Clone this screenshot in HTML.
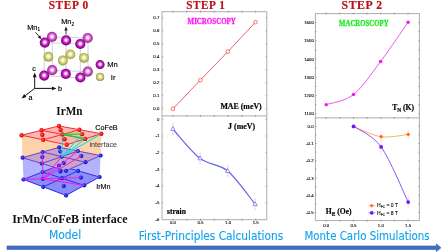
<!DOCTYPE html>
<html lang="en"><head><meta charset="utf-8"><title>Multiscale workflow</title>
<style>
html,body{margin:0;padding:0;background:#fff;}
body{width:448px;height:252px;overflow:hidden;}
svg{display:block;}
text{font-family:"Liberation Sans","DejaVu Sans",sans-serif;}
.serif{font-family:"Liberation Serif","DejaVu Serif",serif;font-weight:bold;}
.lab{stroke:#000;stroke-width:0.18px;fill:#000;}
.hand{font-family:"DejaVu Sans","Liberation Sans",sans-serif;fill:#10a2ee;stroke:#10a2ee;stroke-width:0.12px;}
.tick{font-family:"Liberation Sans","DejaVu Sans",sans-serif;font-size:4.3px;fill:#000;stroke:#000;stroke-width:0.1px;}
</style></head><body>
<svg width="448" height="252" viewBox="0 0 448 252">
<defs>
<radialGradient id="gMn" cx="0.5" cy="0.47" r="0.54"><stop offset="0" stop-color="#ffffff"/><stop offset="0.2" stop-color="#fde0fc"/><stop offset="0.45" stop-color="#d440d0"/><stop offset="0.68" stop-color="#aa0ca6"/><stop offset="0.88" stop-color="#820480"/><stop offset="1" stop-color="#4c0050"/></radialGradient>
<radialGradient id="gMn2" cx="0.5" cy="0.47" r="0.54"><stop offset="0" stop-color="#ffffff"/><stop offset="0.2" stop-color="#fde8fc"/><stop offset="0.45" stop-color="#e07cdc"/><stop offset="0.68" stop-color="#bc44b8"/><stop offset="0.88" stop-color="#9c2c98"/><stop offset="1" stop-color="#701872"/></radialGradient>
<radialGradient id="gIr" cx="0.5" cy="0.47" r="0.54"><stop offset="0" stop-color="#ffffff"/><stop offset="0.2" stop-color="#fcfce0"/><stop offset="0.45" stop-color="#dedc94"/><stop offset="0.68" stop-color="#c2c26a"/><stop offset="0.88" stop-color="#a4a44c"/><stop offset="1" stop-color="#6c6c2c"/></radialGradient>
<radialGradient id="gR" cx="0.4" cy="0.4" r="0.65"><stop offset="0" stop-color="#ff5a4a"/><stop offset="0.6" stop-color="#f01010"/><stop offset="1" stop-color="#b80000"/></radialGradient>
<radialGradient id="gB" cx="0.4" cy="0.4" r="0.65"><stop offset="0" stop-color="#5a5aff"/><stop offset="0.6" stop-color="#1818e0"/><stop offset="1" stop-color="#0a0a9a"/></radialGradient>
</defs>
<rect width="448" height="252" fill="#fff"/>

<text class="serif" x="48.7" y="9" font-size="13" letter-spacing="0.7" fill="#c40c10" stroke="#c40c10" stroke-width="0.2" textLength="40" lengthAdjust="spacingAndGlyphs">STEP 0</text>
<text class="serif" x="186.2" y="9" font-size="13" letter-spacing="0.7" fill="#b81016" stroke="#b81016" stroke-width="0.2" textLength="39.3" lengthAdjust="spacingAndGlyphs">STEP 1</text>
<text class="serif" x="341.5" y="8.8" font-size="13" letter-spacing="0.7" fill="#b81016" stroke="#b81016" stroke-width="0.2" textLength="41.2" lengthAdjust="spacingAndGlyphs">STEP 2</text>
<g stroke="#b4b4b4" stroke-width="0.6" fill="none">
<path d="M44.5 42.6 L80.3 44 L80.3 78 L44.2 75.5 Z"/>
<path d="M52 37 L88 38 L88 71.5 L52.5 70.5 Z"/>
<path d="M44.5 42.6 L52 37 M80.3 44 L88 38 M80.3 78 L88 71.5 M44.2 75.5 L52.5 70.5 M66 40.4 L66 74"/>
</g>
<circle cx="52.0" cy="36.9" r="5.1" fill="url(#gMn2)"/>
<circle cx="87.7" cy="38.0" r="5.1" fill="url(#gMn2)"/>
<circle cx="52.2" cy="70.2" r="5.1" fill="url(#gMn2)"/>
<circle cx="87.8" cy="71.6" r="5.1" fill="url(#gMn2)"/>
<circle cx="70.4" cy="54.4" r="4.9" fill="url(#gIr)"/>
<circle cx="48.4" cy="56.7" r="4.9" fill="url(#gIr)"/>
<circle cx="84.0" cy="57.8" r="4.9" fill="url(#gIr)"/>
<circle cx="62.8" cy="60.5" r="4.9" fill="url(#gIr)"/>
<circle cx="44.8" cy="42.6" r="5.1" fill="url(#gMn)"/>
<circle cx="66.1" cy="40.4" r="5.1" fill="url(#gMn)"/>
<circle cx="80.3" cy="44.0" r="5.1" fill="url(#gMn)"/>
<circle cx="44.2" cy="75.6" r="5.1" fill="url(#gMn)"/>
<circle cx="65.8" cy="73.9" r="5.1" fill="url(#gMn)"/>
<circle cx="80.4" cy="77.5" r="5.1" fill="url(#gMn)"/>
<circle cx="100.1" cy="64.6" r="4.5" fill="url(#gMn)"/>
<circle cx="100.1" cy="76.9" r="4.1" fill="url(#gIr)"/>
<text x="107.3" y="67.4" font-size="7.6" fill="#000" stroke="#000" stroke-width="0.15">Mn</text>
<text x="110.8" y="79.6" font-size="7.6" fill="#000" stroke="#000" stroke-width="0.15">Ir</text>
<text x="27.2" y="29.8" font-size="7.4" fill="#000" stroke="#000" stroke-width="0.15">Mn<tspan font-size="4.6" dy="1.6">1</tspan></text>
<text x="61.2" y="24" font-size="7.4" fill="#000" stroke="#000" stroke-width="0.15">Mn<tspan font-size="4.6" dy="1.6">2</tspan></text>
<path d="M35.40 32.20 L38.93 36.31" stroke="#111" stroke-width="0.80" fill="none"/>
<path d="M41.40 39.20 L37.71 37.36 L40.14 35.27 Z" fill="#111"/>
<path d="M66.00 34.60 L66.00 30.40" stroke="#111" stroke-width="0.80" fill="none"/>
<path d="M66.00 26.60 L67.60 30.40 L64.40 30.40 Z" fill="#111"/>
<path d="M34.70 88.40 L34.70 77.20" stroke="#111" stroke-width="1.00" fill="none"/>
<path d="M34.70 72.60 L36.60 77.20 L32.80 77.20 Z" fill="#111"/>
<path d="M34.70 88.40 L51.90 88.40" stroke="#111" stroke-width="1.00" fill="none"/>
<path d="M56.50 88.40 L51.90 90.30 L51.90 86.50 Z" fill="#111"/>
<path d="M34.70 88.40 L25.26 95.61" stroke="#111" stroke-width="1.00" fill="none"/>
<path d="M21.60 98.40 L24.10 94.10 L26.41 97.12 Z" fill="#111"/>
<text x="32.3" y="70.6" font-size="7.2" fill="#000" stroke="#000" stroke-width="0.15">c</text>
<text x="58" y="91.4" font-size="7.2" fill="#000" stroke="#000" stroke-width="0.15">b</text>
<text x="28.4" y="99.6" font-size="7.2" fill="#000" stroke="#000" stroke-width="0.15">a</text>
<text class="serif" x="56.3" y="114.7" font-size="12" fill="#111" textLength="26.2" lengthAdjust="spacingAndGlyphs">IrMn</text>
<polygon points="22.6,157.7 59.1,147.3 100.6,155.5 99.6,177.0 66.0,195.4 23.5,179.5" fill="#b2b2ff" fill-opacity="1" stroke="none" stroke-width="0"/>
<polygon points="23.5,179.5 59.0,165.5 99.6,177.0 66.0,195.4" fill="#8c8cf8" fill-opacity="1" stroke="none" stroke-width="0"/>
<path d="M25.4 178.7 L40.7 172.7 M25.5 180.2 L41.2 186.1 M44.2 171.3 L57.4 166.1 M45.5 187.7 L63.7 194.5 M45.1 186.0 L60.1 179.1 M44.5 172.6 L60.0 177.6 M63.6 177.5 L76.4 171.6 M64.2 179.0 L82.0 184.7 M67.8 194.4 L82.4 186.4 M60.9 166.0 L76.1 170.3 M85.8 184.6 L98.1 177.8 M80.2 171.5 L97.4 176.4 " stroke="#2c2cf0" stroke-width="1.0" stroke-opacity="1" fill="none"/>
<polygon points="21.6,135.2 59.0,126.0 101.3,133.7 100.6,155.5 66.0,170.8 22.6,157.7" fill="#fcd3ab" fill-opacity="1" stroke="none" stroke-width="0"/>
<polygon points="22.6,157.7 59.1,147.3 100.6,155.5 66.0,170.8" fill="#c4a0cc" fill-opacity="0.9" stroke="none" stroke-width="0"/>
<path d="M24.6 157.1 L40.6 152.6 M24.5 158.3 L39.9 162.9 M44.3 151.5 L57.5 147.8 M44.2 164.2 L63.6 170.1 M43.8 162.8 L59.8 157.3 M44.6 152.5 L59.9 156.1 M63.4 156.0 L76.3 151.6 M64.2 157.2 L83.0 161.7 M67.9 169.9 L83.4 163.1 M61.0 147.7 L76.1 150.7 M86.9 161.6 L99.1 156.2 M80.2 151.5 L98.3 155.1 " stroke="#6a42cc" stroke-width="1.0" stroke-opacity="1" fill="none"/>
<polygon points="21.6,135.2 59.0,126.0 101.3,133.7 66.7,144.8" fill="#ffb4b4" fill-opacity="0.95" stroke="none" stroke-width="0"/>
<path d="M23.6 134.7 L39.5 130.8 M23.8 135.7 L41.1 139.3 M43.2 129.9 L57.2 126.4 M45.6 140.3 L64.4 144.3 M45.1 139.3 L60.5 135.0 M43.6 130.7 L60.4 134.0 M64.1 134.0 L77.7 130.2 M64.7 134.9 L82.9 138.4 M68.5 144.2 L83.3 139.5 M61.0 126.4 L77.3 129.3 M86.8 138.4 L99.7 134.2 M81.6 130.1 L99.1 133.3 " stroke="#f23030" stroke-width="1.0" stroke-opacity="1" fill="none"/>
<circle cx="59.0" cy="165.5" r="2.1" fill="url(#gB)"/>
<circle cx="78.0" cy="170.9" r="2.1" fill="url(#gB)"/>
<circle cx="60.4" cy="171.4" r="2.1" fill="url(#gB)"/>
<circle cx="42.6" cy="172.0" r="2.1" fill="url(#gB)"/>
<circle cx="99.6" cy="177.0" r="2.1" fill="url(#gB)"/>
<circle cx="80.9" cy="177.6" r="2.1" fill="url(#gB)"/>
<circle cx="62.0" cy="178.2" r="2.1" fill="url(#gB)"/>
<circle cx="42.9" cy="178.9" r="2.1" fill="url(#gB)"/>
<circle cx="23.5" cy="179.5" r="2.1" fill="url(#gB)"/>
<circle cx="84.2" cy="185.4" r="2.1" fill="url(#gB)"/>
<circle cx="63.8" cy="186.1" r="2.1" fill="url(#gB)"/>
<circle cx="43.2" cy="186.9" r="2.1" fill="url(#gB)"/>
<circle cx="66.0" cy="195.4" r="2.1" fill="url(#gB)"/>
<circle cx="59.1" cy="147.3" r="2.1" fill="url(#gB)"/>
<circle cx="77.9" cy="151.0" r="2.1" fill="url(#gB)"/>
<circle cx="60.3" cy="151.5" r="2.1" fill="url(#gB)"/>
<circle cx="42.6" cy="152.0" r="2.1" fill="url(#gB)"/>
<circle cx="100.6" cy="155.5" r="2.1" fill="url(#gB)"/>
<circle cx="81.3" cy="156.0" r="2.1" fill="url(#gB)"/>
<circle cx="61.8" cy="156.6" r="2.1" fill="url(#gB)"/>
<circle cx="42.3" cy="157.1" r="2.1" fill="url(#gB)"/>
<circle cx="22.6" cy="157.7" r="2.1" fill="url(#gB)"/>
<circle cx="85.4" cy="162.2" r="2.1" fill="url(#gB)"/>
<circle cx="63.7" cy="162.9" r="2.1" fill="url(#gB)"/>
<circle cx="41.8" cy="163.5" r="2.1" fill="url(#gB)"/>
<circle cx="66.0" cy="170.8" r="2.1" fill="url(#gB)"/>
<path d="M42.9 178.9 L23.5 179.5 M42.9 178.9 L42.6 152.0 M42.9 178.9 L61.8 156.6 M42.9 178.9 L81.3 156.0 M42.9 178.9 L80.9 177.6 M42.9 178.9 L84.2 185.4 M42.9 178.9 L77.9 151.0" stroke="#f01ce6" stroke-width="1.0" fill="none"/>
<path d="M61.8 156.6 L62.5 134.4 M61.8 156.6 L82.1 134.1 M61.8 156.6 L85.2 138.9 M61.8 156.6 L101.3 133.7" stroke="#20dce8" stroke-width="1.1" fill="none"/>
<circle cx="59.0" cy="126.0" r="2.2" fill="url(#gR)"/>
<circle cx="79.4" cy="129.7" r="2.2" fill="url(#gR)"/>
<circle cx="60.6" cy="130.0" r="2.2" fill="url(#gR)"/>
<circle cx="41.5" cy="130.3" r="2.2" fill="url(#gR)"/>
<circle cx="101.3" cy="133.7" r="2.2" fill="url(#gR)"/>
<circle cx="82.1" cy="134.1" r="2.2" fill="url(#gR)"/>
<circle cx="62.5" cy="134.4" r="2.2" fill="url(#gR)"/>
<circle cx="42.3" cy="134.8" r="2.2" fill="url(#gR)"/>
<circle cx="21.6" cy="135.2" r="2.2" fill="url(#gR)"/>
<circle cx="85.2" cy="138.9" r="2.2" fill="url(#gR)"/>
<circle cx="64.5" cy="139.3" r="2.2" fill="url(#gR)"/>
<circle cx="43.2" cy="139.8" r="2.2" fill="url(#gR)"/>
<circle cx="66.7" cy="144.8" r="2.2" fill="url(#gR)"/>
<path d="M62.5 134.4 L82.1 134.1 M62.5 134.4 L85.2 138.9" stroke="#14d828" stroke-width="1.2" fill="none"/>
<text x="95.3" y="129.6" font-size="7.2" fill="#000" stroke="#000" stroke-width="0.15">CoFeB</text>
<text x="89.5" y="147" font-size="7.2" fill="#333">interface</text>
<text x="96.2" y="189" font-size="7.2" fill="#000" stroke="#000" stroke-width="0.12">IrMn</text>
<text class="serif" x="12.2" y="222.6" font-size="11.5" fill="#111" textLength="115.3" lengthAdjust="spacingAndGlyphs">IrMn/CoFeB interface</text>
<text class="hand" x="48.9" y="239" font-size="12.2" textLength="32.3" lengthAdjust="spacingAndGlyphs">Model</text>
<text class="hand" x="138.7" y="240.3" font-size="12" textLength="144.5" lengthAdjust="spacingAndGlyphs">First-Principles Calculations</text>
<text class="hand" x="304.5" y="240.3" font-size="12" textLength="125.2" lengthAdjust="spacingAndGlyphs">Monte Carlo Simulations</text>
<path d="M7 246 L436.4 246 L436.4 243.9 L441 247.7 L436.4 251.5 L436.4 249.4 L7 249.4 Z" fill="#4070c6" stroke="#2f52a0" stroke-width="0.6"/>
<path d="M162.0 11.7 H266.8 V219.7 H162.0 Z M162.0 115.9 H266.8" stroke="#8a8a8a" stroke-width="0.7" fill="none"/>
<path d="M172.9 10.7 v1.9 M186.7 10.7 v1.9 M200.5 10.7 v1.9 M214.3 10.7 v1.9 M228.1 10.7 v1.9 M241.9 10.7 v1.9 M255.7 10.7 v1.9 M172.9 114.9 v1.9 M186.7 114.9 v1.9 M200.5 114.9 v1.9 M214.3 114.9 v1.9 M228.1 114.9 v1.9 M241.9 114.9 v1.9 M255.7 114.9 v1.9 M172.9 218.7 v1.9 M186.7 218.7 v1.9 M200.5 218.7 v1.9 M214.3 218.7 v1.9 M228.1 218.7 v1.9 M241.9 218.7 v1.9 M255.7 218.7 v1.9 " stroke="#666" stroke-width="0.5"/>
<path d="M162.0 108.8 h1.2 M266.8 108.8 h-1.2 M162.0 95.8 h1.2 M266.8 95.8 h-1.2 M162.0 82.8 h1.2 M266.8 82.8 h-1.2 M162.0 69.8 h1.2 M266.8 69.8 h-1.2 M162.0 56.8 h1.2 M266.8 56.8 h-1.2 M162.0 43.8 h1.2 M266.8 43.8 h-1.2 M162.0 30.8 h1.2 M266.8 30.8 h-1.2 M162.0 17.8 h1.2 M266.8 17.8 h-1.2 " stroke="#666" stroke-width="0.5"/>
<text class="tick" x="159.3" y="110.1" text-anchor="end">0.0</text>
<text class="tick" x="159.3" y="97.1" text-anchor="end">0.1</text>
<text class="tick" x="159.3" y="84.1" text-anchor="end">0.2</text>
<text class="tick" x="159.3" y="71.1" text-anchor="end">0.3</text>
<text class="tick" x="159.3" y="58.1" text-anchor="end">0.4</text>
<text class="tick" x="159.3" y="45.1" text-anchor="end">0.5</text>
<text class="tick" x="159.3" y="32.1" text-anchor="end">0.6</text>
<text class="tick" x="159.3" y="19.1" text-anchor="end">0.7</text>
<path d="M162.0 119.3 h1.2 M266.8 119.3 h-1.2 M162.0 136.0 h1.2 M266.8 136.0 h-1.2 M162.0 152.7 h1.2 M266.8 152.7 h-1.2 M162.0 169.4 h1.2 M266.8 169.4 h-1.2 M162.0 186.1 h1.2 M266.8 186.1 h-1.2 M162.0 202.8 h1.2 M266.8 202.8 h-1.2 " stroke="#666" stroke-width="0.5"/>
<text class="tick" x="159.3" y="120.6" text-anchor="end">0</text>
<text class="tick" x="159.3" y="137.3" text-anchor="end">-1</text>
<text class="tick" x="159.3" y="154.0" text-anchor="end">-2</text>
<text class="tick" x="159.3" y="170.7" text-anchor="end">-3</text>
<text class="tick" x="159.3" y="187.4" text-anchor="end">-4</text>
<text class="tick" x="159.3" y="204.1" text-anchor="end">-5</text>
<text class="tick" x="159.3" y="220.8" text-anchor="end">-6</text>
<text class="tick" x="172.9" y="224.2" text-anchor="middle">0.0</text>
<text class="tick" x="200.5" y="224.2" text-anchor="middle">0.5</text>
<text class="tick" x="228.1" y="224.2" text-anchor="middle">1.0</text>
<text class="tick" x="255.7" y="224.2" text-anchor="middle">1.5</text>
<path d="M172.9 108.8 L200.4 80.1 L227.9 51.6 L255.5 22.2" stroke="#e8383c" stroke-width="0.8" fill="none"/>
<circle cx="172.9" cy="108.8" r="1.8" fill="#fff" stroke="#e8383c" stroke-width="0.7"/>
<circle cx="200.4" cy="80.1" r="1.8" fill="#fff" stroke="#e8383c" stroke-width="0.7"/>
<circle cx="227.9" cy="51.6" r="1.8" fill="#fff" stroke="#e8383c" stroke-width="0.7"/>
<circle cx="255.5" cy="22.2" r="1.8" fill="#fff" stroke="#e8383c" stroke-width="0.7"/>
<text x="187.6" y="23.8" font-size="8.3" font-weight="bold" fill="#ff14f2" stroke="#ff14f2" stroke-width="0.3" textLength="48.2" lengthAdjust="spacingAndGlyphs" style="font-family:'Liberation Serif','DejaVu Serif',serif">MICROSCOPY</text>
<text class="serif lab" x="220.4" y="109" font-size="8" textLength="41.3" lengthAdjust="spacingAndGlyphs">MAE (meV)</text>
<text class="serif lab" x="228.1" y="128.9" font-size="8" textLength="27" lengthAdjust="spacingAndGlyphs">J (meV)</text>
<text class="serif lab" x="167.1" y="214.4" font-size="7.6" textLength="18.8" lengthAdjust="spacingAndGlyphs">strain</text>
<path d="M172.9 123.8 v10.4 m-0.8 0 h1.6 m-1.6 -10.4 h1.6" stroke="#cfc6dc" stroke-width="0.6" fill="none"/>
<path d="M200.1 153.2 v10.4 m-0.8 0 h1.6 m-1.6 -10.4 h1.6" stroke="#cfc6dc" stroke-width="0.6" fill="none"/>
<path d="M227.7 165.8 v10.4 m-0.8 0 h1.6 m-1.6 -10.4 h1.6" stroke="#cfc6dc" stroke-width="0.6" fill="none"/>
<path d="M255.1 199.0 v10.4 m-0.8 0 h1.6 m-1.6 -10.4 h1.6" stroke="#cfc6dc" stroke-width="0.6" fill="none"/>
<path d="M172.90 129.00 C177.43 133.90 190.97 151.40 200.10 158.40 C209.23 165.40 218.53 163.37 227.70 171.00 C236.87 178.63 250.53 198.67 255.10 204.20" stroke="#6262ea" stroke-width="1.15" fill="none"/>
<path d="M172.9 126.5 l2.1 3.9 h-4.2 Z" fill="#fff" stroke="#5858ea" stroke-width="0.65"/>
<path d="M200.1 155.9 l2.1 3.9 h-4.2 Z" fill="#fff" stroke="#5858ea" stroke-width="0.65"/>
<path d="M227.7 168.5 l2.1 3.9 h-4.2 Z" fill="#fff" stroke="#5858ea" stroke-width="0.65"/>
<path d="M255.1 201.7 l2.1 3.9 h-4.2 Z" fill="#fff" stroke="#5858ea" stroke-width="0.65"/>
<path d="M315.4 13.6 H419.4 V220.6 H315.4 Z M315.4 117.9 H419.4" stroke="#8a8a8a" stroke-width="0.7" fill="none"/>
<path d="M326.2 12.6 v1.9 M339.8 12.6 v1.9 M353.5 12.6 v1.9 M367.1 12.6 v1.9 M380.8 12.6 v1.9 M394.4 12.6 v1.9 M408.1 12.6 v1.9 M326.2 116.9 v1.9 M339.8 116.9 v1.9 M353.5 116.9 v1.9 M367.1 116.9 v1.9 M380.8 116.9 v1.9 M394.4 116.9 v1.9 M408.1 116.9 v1.9 M326.2 219.6 v1.9 M339.8 219.6 v1.9 M353.5 219.6 v1.9 M367.1 219.6 v1.9 M380.8 219.6 v1.9 M394.4 219.6 v1.9 M408.1 219.6 v1.9 " stroke="#666" stroke-width="0.5"/>
<path d="M315.4 113.8 h1.2 M419.4 113.8 h-1.2 M315.4 104.7 h1.2 M419.4 104.7 h-1.2 M315.4 95.6 h1.2 M419.4 95.6 h-1.2 M315.4 86.4 h1.2 M419.4 86.4 h-1.2 M315.4 77.3 h1.2 M419.4 77.3 h-1.2 M315.4 68.2 h1.2 M419.4 68.2 h-1.2 M315.4 59.1 h1.2 M419.4 59.1 h-1.2 M315.4 50.0 h1.2 M419.4 50.0 h-1.2 M315.4 40.8 h1.2 M419.4 40.8 h-1.2 M315.4 31.7 h1.2 M419.4 31.7 h-1.2 M315.4 22.6 h1.2 M419.4 22.6 h-1.2 " stroke="#666" stroke-width="0.5"/>
<text class="tick" x="313.8" y="115.4" text-anchor="end" font-size="4.5">1100</text>
<text class="tick" x="313.8" y="97.1" text-anchor="end" font-size="4.5">1200</text>
<text class="tick" x="313.8" y="78.9" text-anchor="end" font-size="4.5">1300</text>
<text class="tick" x="313.8" y="60.7" text-anchor="end" font-size="4.5">1400</text>
<text class="tick" x="313.8" y="42.4" text-anchor="end" font-size="4.5">1500</text>
<text class="tick" x="313.8" y="24.2" text-anchor="end" font-size="4.5">1600</text>
<path d="M315.4 126.2 h1.2 M419.4 126.2 h-1.2 M315.4 134.8 h1.2 M419.4 134.8 h-1.2 M315.4 143.5 h1.2 M419.4 143.5 h-1.2 M315.4 152.1 h1.2 M419.4 152.1 h-1.2 M315.4 160.7 h1.2 M419.4 160.7 h-1.2 M315.4 169.3 h1.2 M419.4 169.3 h-1.2 M315.4 178.0 h1.2 M419.4 178.0 h-1.2 M315.4 186.6 h1.2 M419.4 186.6 h-1.2 M315.4 195.2 h1.2 M419.4 195.2 h-1.2 M315.4 203.9 h1.2 M419.4 203.9 h-1.2 M315.4 212.5 h1.2 M419.4 212.5 h-1.2 " stroke="#666" stroke-width="0.5"/>
<text class="tick" x="313.6" y="127.7" text-anchor="end" font-size="4.3">0.0</text>
<text class="tick" x="313.6" y="145.0" text-anchor="end" font-size="4.3">-0.1</text>
<text class="tick" x="313.6" y="162.2" text-anchor="end" font-size="4.3">-0.2</text>
<text class="tick" x="313.6" y="179.5" text-anchor="end" font-size="4.3">-0.3</text>
<text class="tick" x="313.6" y="196.7" text-anchor="end" font-size="4.3">-0.4</text>
<text class="tick" x="313.6" y="214.0" text-anchor="end" font-size="4.3">-0.5</text>
<text class="tick" x="326.2" y="226.5" text-anchor="middle">0.0</text>
<text class="tick" x="353.5" y="226.5" text-anchor="middle">0.5</text>
<text class="tick" x="380.8" y="226.5" text-anchor="middle">1.0</text>
<text class="tick" x="408.1" y="226.5" text-anchor="middle">1.5</text>
<path d="M326.20 104.70 C330.75 103.00 344.43 101.70 353.50 94.50 C362.57 87.30 371.50 73.55 380.60 61.50 C389.70 49.45 403.52 28.75 408.10 22.20" stroke="#f040f0" stroke-width="0.9" fill="none"/>
<circle cx="326.2" cy="104.7" r="1.7" fill="#f414f0"/>
<circle cx="353.5" cy="94.5" r="1.7" fill="#f414f0"/>
<circle cx="380.6" cy="61.5" r="1.7" fill="#f414f0"/>
<circle cx="408.1" cy="22.2" r="1.7" fill="#f414f0"/>
<text x="339.1" y="25.8" font-size="8.5" font-weight="bold" fill="#20ec20" stroke="#20ec20" stroke-width="0.3" textLength="49.5" lengthAdjust="spacingAndGlyphs" style="font-family:'Liberation Serif','DejaVu Serif',serif">MACROSCOPY</text>
<text class="serif lab" x="392.2" y="110.4" font-size="7.6">T<tspan font-size="5.4" dy="1.6">N</tspan><tspan dy="-1.6"> (K)</tspan></text>
<text class="serif lab" x="325.8" y="214" font-size="7.6">H<tspan font-size="5.4" dy="1.7">E</tspan><tspan dy="-1.7"> (Oe)</tspan></text>
<path d="M381.1 131.2 v11" stroke="#fbd8c0" stroke-width="0.6"/>
<path d="M408.2 128.9 v11" stroke="#fbd8c0" stroke-width="0.6"/>
<path d="M381.1 139.9 v14" stroke="#e6c8f4" stroke-width="0.6"/>
<path d="M408.2 195.1 v14" stroke="#e6c8f4" stroke-width="0.6"/>
<path d="M353.60 126.40 C358.18 128.12 372.00 135.37 381.10 136.70 C390.20 138.03 403.68 134.78 408.20 134.40" stroke="#f7a55a" stroke-width="0.9" fill="none"/>
<path d="M353.60 126.40 C358.18 129.82 372.00 134.28 381.10 146.90 C390.20 159.52 403.68 192.90 408.20 202.10" stroke="#8a3cf6" stroke-width="0.9" fill="none"/>
<path d="M353.6 124.3 l2.1 2.1 l-2.1 2.1 l-2.1 -2.1 Z" fill="#ff6a10"/>
<path d="M381.1 134.6 l2.1 2.1 l-2.1 2.1 l-2.1 -2.1 Z" fill="#ff6a10"/>
<path d="M408.2 132.3 l2.1 2.1 l-2.1 2.1 l-2.1 -2.1 Z" fill="#ff6a10"/>
<circle cx="353.6" cy="126.4" r="1.9" fill="#6a1cf8"/>
<circle cx="381.1" cy="146.9" r="1.9" fill="#6a1cf8"/>
<circle cx="408.2" cy="202.1" r="1.9" fill="#6a1cf8"/>
<path d="M368.4 205.7 h6.8" stroke="#f7a55a" stroke-width="0.7"/><path d="M371.7 203.8 l1.9 1.9 l-1.9 1.9 l-1.9 -1.9 Z" fill="#ff6a10"/>
<path d="M368.4 212.9 h6.8" stroke="#8a3cf6" stroke-width="0.7"/><circle cx="371.7" cy="212.9" r="1.8" fill="#6a1cf8"/>
<text x="377" y="207.4" font-size="5" fill="#000" stroke="#000" stroke-width="0.1">H<tspan font-size="3.4" dy="0.9">FC</tspan><tspan dy="-0.9"> = 0 T</tspan></text>
<text x="377" y="214.6" font-size="5" fill="#000" stroke="#000" stroke-width="0.1">H<tspan font-size="3.4" dy="0.9">FC</tspan><tspan dy="-0.9"> = 8 T</tspan></text>
</svg></body></html>
